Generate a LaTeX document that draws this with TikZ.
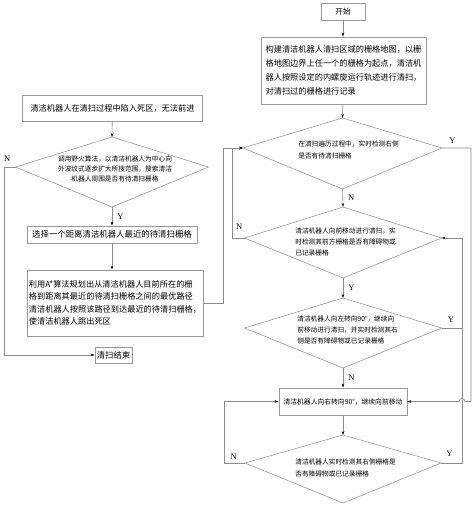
\documentclass[tikz,border=0pt]{standalone}
\usepackage{fontspec}
\setmainfont{Liberation Serif}
\newfontfamily\cjk{Noto Sans CJK SC}
\usepackage{tikz}
\usetikzlibrary{
	arrows.meta,
	calc,
	positioning
}
\tikzset{every path/.append style={line width=0.6pt}}
\tikzset{every path/.append style={>={Stealth[length=4pt,width=2.6pt,black]}}}
\tikzset{
	box/.style={draw=black!40,inner sep=2pt,align=left,font=\cjk\fontsize{8.2}{12.3}\selectfont},
	kite/.style={draw=black!40},
	kitetext/.style={inner sep=0pt,align=left,font=\cjk\fontsize{6.7}{11}\selectfont},
	flow/.style={draw=black!45,->},
	line/.style={draw=black!45},
	yn/.style={inner sep=0pt,font=\fontsize{8.5}{8.5}\selectfont}
}
% decision kite: name, x, y of side corners, half width, rise, drop
\newcommand{\tikzKite}[6]{
	\coordinate (#1-n) at (#2,#3-#5);
	\coordinate (#1-s) at (#2,#3+#6);
	\coordinate (#1-w) at (#2-#4,#3);
	\coordinate (#1-e) at (#2+#4,#3);
	\draw[kite] (#1-n) -- (#1-e) -- (#1-s) -- (#1-w) -- cycle;
}

\begin{document}
\begin{tikzpicture}[x=1pt,y=-1pt]
	\useasboundingbox (0,0) rectangle (474,508);

	% right column
	\node[box,minimum width=44pt,minimum height=17pt,font=\cjk\fontsize{7.6}{9}\selectfont] (start) at (343,11.5) {开始};
	\node[box,minimum width=165pt,minimum height=67pt,font=\cjk\fontsize{8.2}{13.8}\selectfont] (build) at (343.5,70.5) {构建清洁机器人清扫区域的栅格地图，以栅\\格地图边界上任一个的栅格为起点，清洁机\\器人按照设定的内螺旋运行轨迹进行清扫，\\对清扫过的栅格进行记录};

	\tikzKite{da}{342.5}{148}{99.5}{30}{41}
	\node[kitetext,anchor=west,font=\cjk\fontsize{6.7}{12.5}\selectfont] (datext) at (298,150) {在清扫遍历过程中，实时检测右侧\\是否有待清扫栅格};

	\tikzKite{db}{343}{238}{98.5}{31}{40}
	\node[kitetext,anchor=west] (dbtext) at (295,242) {清洁机器人向前移动进行清扫，实\\时检测其前方栅格是否有障碍物或\\已记录栅格};

	\tikzKite{dc}{343}{328}{98.5}{30}{40}
	\node[kitetext,anchor=west] (dctext) at (297,330) {清洁机器人向左转向90°，继续向\\前移动进行清扫，并实时检测其右\\侧是否有障碍物或已记录栅格};

	\node[box,minimum width=128pt,minimum height=27pt,font=\cjk\fontsize{6.8}{9}\selectfont] (turnright) at (343,401.5) {清洁机器人向右转向90°，继续向前移动};

	\tikzKite{dd}{343}{463}{98}{28}{40}
	\node[kitetext,anchor=west,font=\cjk\fontsize{6.7}{12.3}\selectfont] (ddtext) at (295,468) {清洁机器人实时检测其右侧栅格是\\否有障碍物或已记录栅格};

	% left column
	\node[box,minimum width=180pt,minimum height=26pt] (stuck) at (112.5,108) {清洁机器人在清扫过程中陷入死区，无法前进};
	\tikzKite{ld}{112}{167}{96.5}{30}{40}
	\node[kitetext,align=center,font=\cjk\fontsize{6.7}{10}\selectfont] (ldtext) at (115,169) {调用野火算法，以清洁机器人为中心向\\外波纹式逐步扩大所搜范围，搜索清洁\\机器人周围是否有待清扫栅格};
	\node[box,minimum width=170pt,minimum height=17pt,font=\cjk\fontsize{8.4}{10}\selectfont] (nearest) at (112,234.5) {选择一个距离清洁机器人最近的待清扫栅格};
	\node[box,minimum width=176pt,minimum height=66pt] (astar) at (115,303) {利用A*算法规划出从清洁机器人目前所在的栅\\格到距离其最近的待清扫栅格之间的最优路径\\清洁机器人按照该路径到达最近的待清扫栅格，\\使清洁机器人跳出死区};
	\node[box,minimum width=37pt,minimum height=16pt,font=\cjk\fontsize{8.3}{10}\selectfont] (finish) at (113.5,355) {清扫结束};

	% main flow
	\draw[flow] (start) -- (start |- build.north);
	\draw[flow] (build) -- (da-n);
	\draw[flow] (da-s) -- node[yn,right=5pt] (daN) {N} (db-n);
	\draw[flow] (db-s) -- node[yn,right=5pt] (dbY) {Y} (dc-n);
	\draw[flow] (dc-s) -- node[yn,right=5pt] (dcN) {N} (turnright);
	\draw[flow] (turnright) -- (dd-n);

	% loops on the right
	\coordinate (rout) at (471,0);
	\coordinate (rin) at (462,0);
	\coordinate (hop) at (turnright -| rin);
	\draw[flow] (da-e) node[yn,above right=4pt and 7pt] (daY) {Y} -- (da-e -| rout) -- (turnright -| rout)
		-- ($(hop)+(3,0)$) .. controls ($(hop)+(3,-4)$) and ($(hop)+(-3,-4)$) .. ($(hop)+(-3,0)$) -- (turnright);
	\draw[line] (dc-e) node[yn,above right=5pt and 6pt] (dcY) {Y} -- (dc-e -| rin);
	\draw[flow] (dd-e) node[yn,above right=6pt and 5pt] (ddY) {Y} -- (dd-e -| rin) |- (db-e);

	% loops on the left
	\coordinate (lin) at (232,0);
	\coordinate (lout) at (223,0);
	\coordinate (lret) at (224,0);
	\draw[flow] (db-w) node[yn,above left=8pt and 2pt] (dbN) {N} -- (db-w -| lin) |- (da-w);
	\draw[flow] (astar) -- (astar -| lout) |- (da-w);
	\draw[flow] (dd-w) node[yn,above left=3pt and 8pt] (ddN) {N} -- (dd-w -| lret) |- (turnright);

	% left flow
	\coordinate (lfar) at (4,0);
	\draw[flow] (stuck) -- (ld-n);
	\draw[flow] (ld-s) -- node[yn,right=5pt] (ldY) {Y} (nearest);
	\draw[flow] (nearest.south) -- (nearest.south |- astar.north);
	\draw[flow] (ld-w) node[yn,above left=5pt and 5pt] (ldN) {N} -- (ld-w -| lfar) |- (finish);
\end{tikzpicture}
\end{document}
